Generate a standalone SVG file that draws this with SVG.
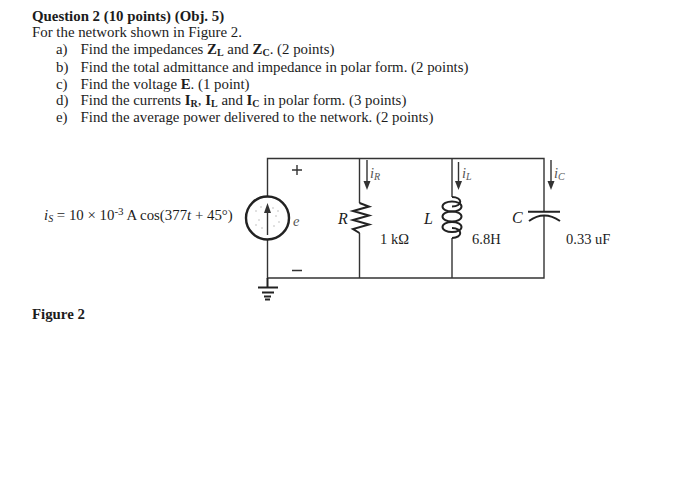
<svg xmlns="http://www.w3.org/2000/svg" width="700" height="477" viewBox="0 0 700 477">
<style>
text{font-family:"Liberation Serif","Times New Roman",serif;font-size:14.850px;fill:#1c1c1c}
.b{font-weight:bold}
.i{font-style:italic}
.s{font-size:10px}
.c{font-size:14.500px}
.l{font-size:16px}
.w{fill:none;stroke:#333;stroke-width:1.400}
.k{fill:none;stroke:#222;stroke-width:2}
.h{fill:#333;stroke:none}
.g{fill:#555}
.d{fill:#bbb}
</style>
<rect width="700" height="477" fill="#fff"/>
<g id="question">
<text class="b" x="32" y="20.500">Question 2 (10 points) (Obj. 5)</text>
<text x="32" y="37">For the network shown in Figure 2.</text>
<text x="56" y="54">a)</text><text x="80.500" y="54">Find the impedances <tspan class="b">Z</tspan><tspan class="b s" dy="2">L</tspan><tspan dy="-2"> and </tspan><tspan class="b">Z</tspan><tspan class="b s" dy="2">C</tspan><tspan dy="-2">. (2 points)</tspan></text>
<text x="56" y="71.500">b)</text><text x="80.500" y="71.500">Find the total admittance and impedance in polar form. (2 points)</text>
<text x="56" y="88.500">c)</text><text x="80.500" y="88.500">Find the voltage <tspan class="b">E</tspan>. (1 point)</text>
<text x="56" y="105">d)</text><text x="80.500" y="105">Find the currents <tspan class="b">I</tspan><tspan class="b s" dy="2">R</tspan><tspan dy="-2">, </tspan><tspan class="b">I</tspan><tspan class="b s" dy="2">L</tspan><tspan dy="-2"> and </tspan><tspan class="b">I</tspan><tspan class="b s" dy="2">C</tspan><tspan dy="-2"> in polar form. (3 points)</tspan></text>
<text x="56" y="122">e)</text><text x="80.500" y="122">Find the average power delivered to the network. (2 points)</text>
</g>
<g id="connectors">
<path class="w" d="M267.500 197V158.500H544V212M544 216V278H267.500V239"/>
<path class="w" d="M359.500 158.500V203M359.500 233V278M452 158.500V197M452 238V278"/>
<path class="k" d="M267.500 278V288"/>
</g>
<g id="source">
<g class="d"><circle cx="256" cy="211" r=".8"/><circle cx="259" cy="220" r=".8"/><circle cx="262" cy="228" r=".8"/><circle cx="261" cy="207" r=".8"/><circle cx="256" cy="225" r=".8"/><circle cx="273" cy="208" r=".8"/><circle cx="276" cy="216" r=".8"/><circle cx="274" cy="226" r=".8"/><circle cx="279" cy="222" r=".8"/><circle cx="278" cy="211" r=".8"/></g>
<circle cx="267.500" cy="218" r="21.500" fill="none" stroke="#222" stroke-width="2.400"/>
<path class="w" d="M267.500 235V208"/>
<path class="h" d="M267.500 203l3.500 10h-7z"/>
<text x="44" y="220"><tspan class="i">i</tspan><tspan class="i s" dy="2">S</tspan><tspan dy="-2"> = 10 × 10</tspan><tspan class="s" style="font-size:11px" dy="-5">-3</tspan><tspan dy="5"> A cos(377</tspan><tspan class="i">t</tspan><tspan> + 45°)</tspan></text>
<text class="i c g" x="293" y="226">e</text>
<path class="w" d="M292 170H302M297 165V175M292 270.500H302"/>
</g>
<g id="ground">
<path class="k" d="M258 287.500H278M262 292.500H274M264 296.500H271"/>
<path class="k" d="M265 299.500H270"/>
</g>
<g id="resistor">
<path class="k" d="M359.500 203L369 206.500L353 211L369 215.500L353 220L369 224.500L353 229L359.500 233"/>
<text class="i l" x="338" y="224">R</text>
<text class="c" x="380" y="244">1 kΩ</text>
<path class="w" d="M367 160V182"/><path class="h" d="M367 190l-3.500-9h7z"/>
<text class="i c g" x="370" y="178">i<tspan class="s" dy="2">R</tspan></text>
</g>
<g id="inductor">
<path class="k" d="M452 197C463 197 463 206.500 452 206.500"/>
<ellipse class="k" cx="452" cy="206.500" rx="9.500" ry="5"/>
<ellipse class="k" cx="452" cy="216.500" rx="9.500" ry="5"/>
<ellipse class="k" cx="452" cy="227" rx="9.500" ry="5"/>
<path class="k" d="M452 228C463 228 463 238 452 238"/>
<text class="i l" x="424" y="224">L</text>
<text class="c" x="472" y="244">6.8H</text>
<path class="w" d="M458.500 162V182"/><path class="h" d="M458.500 190l-3.500-9h7z"/>
<text class="i c g" x="462" y="178">i<tspan class="s" dy="2">L</tspan></text>
</g>
<g id="capacitor">
<path class="k" d="M528 211.700H560M529 221Q544 210 560 221"/>
<text class="i l" x="512" y="223">C</text>
<text class="c" x="566" y="244">0.33 uF</text>
<path class="w" d="M551 160V182"/><path class="h" d="M551 190l-3.500-9h7z"/>
<text class="i c g" x="554" y="178">i<tspan class="s" dy="2">C</tspan></text>
</g>
<g id="caption">
<text class="b" x="32" y="319">Figure 2</text>
</g>
</svg>
